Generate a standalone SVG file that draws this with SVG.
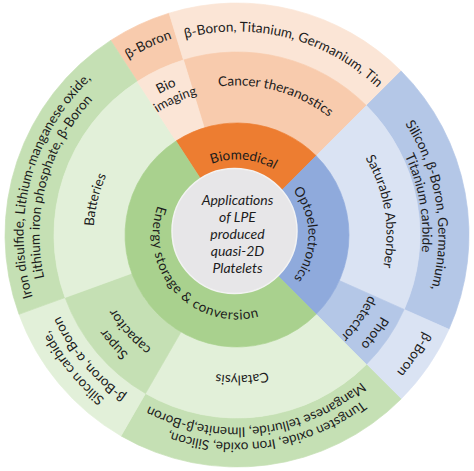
<svg xmlns="http://www.w3.org/2000/svg" xmlns:xlink="http://www.w3.org/1999/xlink" width="474" height="471" viewBox="0 0 474 471">
<style>
text{font-family:Lato,"Open Sans","DejaVu Sans",sans-serif;font-size:13.5px;fill:#1c1c1c;text-anchor:middle}
.it{font-style:italic;font-size:14px}
path.s{stroke-width:.7}
.or{fill:#ED7D31;stroke:#ED7D31}.om{fill:#F8CBAD;stroke:#F8CBAD}.ol{fill:#FBE5D6;stroke:#FBE5D6}
.bd{fill:#8FAADC;stroke:#8FAADC}.bm{fill:#B4C7E7;stroke:#B4C7E7}.bl{fill:#DAE3F3;stroke:#DAE3F3}
.gd{fill:#A9D18E;stroke:#A9D18E}.gm{fill:#C5E0B4;stroke:#C5E0B4}.gl{fill:#E2F0D9;stroke:#E2F0D9}
</style>
<defs>
<path id="cw213_5" d="M-210.25,-37.06 A213.5,213.5 0 0 1 210.25,-37.06"/>
<path id="cw210_5" d="M-207.3,-36.54 A210.5,210.5 0 0 1 207.3,-36.54"/>
<path id="cw207_5" d="M-204.35,-36.02 A207.5,207.5 0 0 1 204.35,-36.02"/>
<path id="cw207" d="M-203.85,-35.94 A207,207 0 0 1 203.85,-35.94"/>
<path id="cw203_5" d="M-200.41,-35.33 A203.5,203.5 0 0 1 200.41,-35.33"/>
<path id="cw201_5" d="M-198.44,-34.98 A201.5,201.5 0 0 1 198.44,-34.98"/>
<path id="cw197_5" d="M-194.5,-34.29 A197.5,197.5 0 0 1 194.5,-34.29"/>
<path id="cw194_5" d="M-191.54,-33.77 A194.5,194.5 0 0 1 191.54,-33.77"/>
<path id="cw192_5" d="M-189.57,-33.42 A192.5,192.5 0 0 1 189.57,-33.42"/>
<path id="cw185_5" d="M-182.68,-32.2 A185.5,185.5 0 0 1 182.68,-32.2"/>
<path id="cw165_5" d="M-162.98,-28.73 A165.5,165.5 0 0 1 162.98,-28.73"/>
<path id="cw161" d="M-158.55,-27.95 A161,161 0 0 1 158.55,-27.95"/>
<path id="cw149_5" d="M-147.23,-25.95 A149.5,149.5 0 0 1 147.23,-25.95"/>
<path id="cw146" d="M-143.78,-25.35 A146,146 0 0 1 143.78,-25.35"/>
<path id="cw145" d="M-142.8,-25.17 A145,145 0 0 1 142.8,-25.17"/>
<path id="cw143_5" d="M-141.32,-24.91 A143.5,143.5 0 0 1 141.32,-24.91"/>
<path id="cw142" d="M-139.84,-24.65 A142,142 0 0 1 139.84,-24.65"/>
<path id="cw140_5" d="M-138.36,-24.39 A140.5,140.5 0 0 1 138.36,-24.39"/>
<path id="cw75_5" d="M-74.35,-13.11 A75.5,75.5 0 0 1 74.35,-13.11"/>
<path id="cw71_5" d="M-70.41,-12.41 A71.5,71.5 0 0 1 70.41,-12.41"/>
<path id="ccw84_5" d="M-83.22,14.67 A84.5,84.5 0 0 0 83.22,14.67"/>
</defs>
<rect width="474" height="471" fill="#ffffff"/>

<!-- outer ring: materials -->
<g id="biomedical-bioimaging-materials">
<path class="s om" d="M110.65,40.42 A232,232 0 0 1 169.16,13.14 L183.49,60 A183,183 0 0 0 137.34,81.52 Z"/>
<text transform="translate(237 235) rotate(-25)"><textPath href="#cw207" startOffset="50%">β-Boron</textPath></text>
</g>
<g id="biomedical-cancer-materials">
<path class="s ol" d="M169.16,13.14 A232,232 0 0 1 401.05,70.95 L366.4,105.6 A183,183 0 0 0 183.49,60 Z"/>
<text transform="translate(237 235) rotate(14.5)"><textPath href="#cw203_5" startOffset="50%">β-Boron, Titanium, Germanium, Tin</textPath></text>
</g>
<g id="opto-saturable-materials">
<path class="s bm" d="M401.05,70.95 A232,232 0 0 1 448.93,329.35 L404.17,309.43 A183,183 0 0 0 366.4,105.6 Z"/>
<text transform="translate(237 235) rotate(81)"><textPath href="#cw201_5" startOffset="50%">Silicon, β-Boron, Germanium,</textPath></text>
<text transform="translate(237 235) rotate(80)"><textPath href="#cw185_5" startOffset="50%">Titanium carbide</textPath></text>
</g>
<g id="opto-photodetector-materials">
<path class="s bl" d="M448.93,329.35 A232,232 0 0 1 401.05,399.05 L366.4,364.4 A183,183 0 0 0 404.17,309.43 Z"/>
<text transform="translate(237 235) rotate(124)"><textPath href="#cw210_5" startOffset="50%">β-Boron</textPath></text>
</g>
<g id="energy-catalysis-materials">
<path class="s gm" d="M401.05,399.05 A232,232 0 0 1 121,435.91 L145.5,393.48 A183,183 0 0 0 366.4,364.4 Z"/>
<text transform="translate(237 235) rotate(171)"><textPath href="#cw207_5" startOffset="50%">Tungsten oxide, Iron oxide, Silicon,</textPath></text>
<text transform="translate(237 235) rotate(173.5)"><textPath href="#cw192_5" startOffset="50%">Manganese telluride, Ilmenite,β-Boron</textPath></text>
</g>
<g id="energy-supercapacitor-materials">
<path class="s gl" d="M121,435.91 A232,232 0 0 1 18.99,314.34 L65.03,297.59 A183,183 0 0 0 145.5,393.48 Z"/>
<text transform="translate(237 235) rotate(231)"><textPath href="#cw210_5" startOffset="50%">Silicon carbide,</textPath></text>
<text transform="translate(237 235) rotate(230)"><textPath href="#cw194_5" startOffset="50%">β-Boron, α-Boron</textPath></text>
</g>
<g id="energy-batteries-materials">
<path class="s gm" d="M18.99,314.34 A232,232 0 0 1 110.65,40.42 L137.34,81.52 A183,183 0 0 0 65.03,297.59 Z"/>
<text transform="translate(237 235) rotate(285)"><textPath href="#cw213_5" startOffset="50%">Iron disulfide, Lithium-manganese oxide,</textPath></text>
<text transform="translate(237 235) rotate(285.3)"><textPath href="#cw197_5" startOffset="50%">Lithium iron phosphate, β-Boron</textPath></text>
</g>

<!-- middle ring: applications -->
<g id="cancer-theranostics">
<path class="s om" d="M183.49,60 A183,183 0 0 1 366.4,105.6 L316.2,155.8 A112,112 0 0 0 204.25,127.89 Z"/>
<text transform="translate(237 235) rotate(15.4)"><textPath href="#cw149_5" startOffset="50%">Cancer theranostics</textPath></text>
</g>
<g id="saturable-absorber">
<path class="s bl" d="M366.4,105.6 A183,183 0 0 1 404.17,309.43 L339.31,280.55 A112,112 0 0 0 316.2,155.8 Z"/>
<text transform="translate(237 235) rotate(80.7)"><textPath href="#cw149_5" startOffset="50%">Saturable  Absorber</textPath></text>
</g>
<g id="photo-detector">
<path class="s bm" d="M404.17,309.43 A183,183 0 0 1 366.4,364.4 L316.2,314.2 A112,112 0 0 0 339.31,280.55 Z"/>
<text transform="translate(237 235) rotate(125.5)"><textPath href="#cw165_5" startOffset="50%">Photo</textPath></text>
<text transform="translate(237 235) rotate(124.5)"><textPath href="#cw145" startOffset="50%">detector</textPath></text>
</g>
<g id="catalysis">
<path class="s gl" d="M366.4,364.4 A183,183 0 0 1 145.5,393.48 L181,331.99 A112,112 0 0 0 316.2,314.2 Z"/>
<text transform="translate(237 235) rotate(178)"><textPath href="#cw140_5" startOffset="50%">Catalysis</textPath></text>
</g>
<g id="super-capacitor">
<path class="s gm" d="M145.5,393.48 A183,183 0 0 1 65.03,297.59 L131.75,273.3 A112,112 0 0 0 181,331.99 Z"/>
<text transform="translate(237 235) rotate(228.5)"><textPath href="#cw161" startOffset="50%">Super</textPath></text>
<text transform="translate(237 235) rotate(228)"><textPath href="#cw142" startOffset="50%">capacitor</textPath></text>
</g>
<g id="batteries">
<path class="s gl" d="M65.03,297.59 A183,183 0 0 1 137.34,81.52 L176,141.07 A112,112 0 0 0 131.75,273.3 Z"/>
<text transform="translate(237 235) rotate(284)"><textPath href="#cw143_5" startOffset="50%">Batteries</textPath></text>
</g>
<g id="bio-imaging">
<path class="s ol" d="M137.34,81.52 A183,183 0 0 1 183.49,60 L204.25,127.89 A112,112 0 0 0 176,141.07 Z"/>
<text transform="translate(237 235) rotate(-25.5)"><textPath href="#cw161" startOffset="50%">Bio</textPath></text>
<text transform="translate(237 235) rotate(-24.5)" style="font-size:13px"><textPath href="#cw146" startOffset="50%">imaging</textPath></text>
</g>

<!-- inner ring: fields -->
<g id="biomedical">
<path class="s or" d="M176,141.07 A112,112 0 0 1 316.2,155.8 L276.6,195.4 A56,56 0 0 0 206.5,188.03 Z"/>
<text transform="translate(237 235) rotate(5)"><textPath href="#cw75_5" startOffset="50%">Biomedical</textPath></text>
</g>
<g id="optoelectronics">
<path class="s bd" d="M316.2,155.8 A112,112 0 0 1 316.2,314.2 L276.6,274.6 A56,56 0 0 0 276.6,195.4 Z"/>
<text transform="translate(237 235) rotate(89.5)"><textPath href="#cw71_5" startOffset="50%">Optoelectronics</textPath></text>
</g>
<g id="energy-storage">
<path class="s gd" d="M316.2,314.2 A112,112 0 1 1 176,141.07 L206.5,188.03 A56,56 0 1 0 276.6,274.6 Z"/>
<text transform="translate(237 235) rotate(47.5)" letter-spacing="0.6"><textPath href="#ccw84_5" startOffset="50%">Energy storage &amp; conversion</textPath></text>
</g>

<!-- centre -->
<g id="center">
<circle cx="234.5" cy="231" r="62.5" fill="#E7E6E8" stroke="#F3F3F3" stroke-width="1.5"/>
<text class="it" x="237.5" y="205">Applications</text>
<text class="it" x="237.5" y="222">of LPE</text>
<text class="it" x="237.5" y="239">produced</text>
<text class="it" x="237.5" y="256">quasi-2D</text>
<text class="it" x="237.5" y="273">Platelets</text>
</g>
</svg>
